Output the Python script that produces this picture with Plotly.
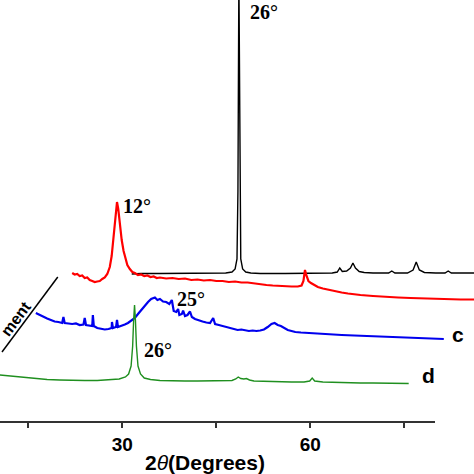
import plotly.graph_objects as go

# ---------------- data (2theta in degrees as displayed, intensity in a.u. incl. offset) -------------
black_x = [31.5, 33.0, 36.0, 40.0, 44.0, 46.5, 47.5, 48.0, 48.3, 48.45, 48.6, 48.75, 48.9, 49.2, 49.7,
           50.5, 52.0, 56.0, 60.0, 63.5, 64.3, 64.7, 65.1, 65.8, 66.4, 66.8, 67.2, 67.8, 68.6, 70.0,
           72.5, 73.0, 73.5, 75.5, 76.4, 76.9, 77.4, 78.2, 80.0, 81.5, 82.0, 82.5, 86.2]
black_y = [147, 147.5, 147.5, 147.5, 147.5, 148, 149, 152, 162, 230, 445, 230, 162, 152, 149,
           148, 147.5, 147.5, 147.5, 148, 149, 153, 149.5, 150, 153, 158, 153, 149.5, 148.5, 148,
           148, 150, 148, 148, 151, 159, 151, 148.5, 148, 148, 150, 148, 148]

red_x = [22.0, 22.4, 22.8, 23.2, 23.6, 24.0, 24.4, 24.8, 25.2, 25.6, 26.0, 26.4, 26.8, 27.2, 27.6,
         28.0, 28.3, 28.6, 28.9, 29.15, 29.35, 29.6, 29.9, 30.2, 30.5, 30.8, 31.2, 31.6, 32.0, 32.5,
         33.0, 33.5, 34.0, 34.5, 35.0, 35.5, 36.0, 37.0, 38.0, 39.0, 40.0, 41.0, 42.0, 43.0, 44.0,
         45.0, 46.0, 47.0, 48.0, 49.0, 50.0, 51.0, 52.0, 53.0, 54.0, 55.0, 56.0, 57.0, 58.0, 58.6,
         58.9, 59.15, 59.35, 59.7, 60.1, 60.6, 61.2, 62.0, 63.0, 64.0, 65.0, 66.0, 67.0, 68.0, 70.0,
         72.0, 74.0, 76.0, 78.0, 80.0, 82.0, 84.0, 86.2]
red_y = [148, 146.5, 147, 145, 145.5, 143, 143.5, 141, 140, 139, 139.5, 140, 142, 143.5, 147,
         154, 165, 185, 208, 219, 212, 196, 181, 170, 162, 156, 152, 149, 148, 146,
         146.5, 145, 145.5, 144, 144.5, 143, 143.5, 142.5, 143, 142, 142.5, 141, 141.5, 140.5, 141,
         140, 140, 139, 139.5, 138.5, 138.5, 137.5, 137, 136, 135.5, 135, 134.5, 134.5, 134.5, 135.5,
         140, 151, 146, 140, 138, 136, 134, 132.5, 131, 129.5, 128.5, 127.5, 126.5, 126, 125,
         124, 123.5, 123, 122.5, 122, 122, 121.5, 121.5]

blue_x = [16.2, 16.8, 17.4, 18.0, 18.6, 19.2, 19.8, 20.4, 20.6, 20.8, 21.4, 22.0, 22.6, 23.2, 23.8,
          24.0, 24.2, 24.8, 25.2, 25.3, 25.45, 26.0, 26.6, 27.2, 27.8, 28.3, 28.35, 28.5, 29.0, 29.15,
          29.3, 29.8, 30.4, 30.9, 31.5, 32.0, 32.5, 33.0, 33.6, 34.1, 34.6, 35.2, 35.6, 36.0, 36.5,
          37.0, 37.5, 37.9, 38.2, 38.6, 38.9, 39.1, 39.5, 39.7, 40.0, 40.4, 40.8, 41.1, 41.6, 42.2,
          42.8, 43.4, 44.0, 44.5, 44.8, 45.4, 46.0, 46.6, 47.2, 47.8, 48.4, 49.0, 49.6, 50.2, 50.8,
          51.4, 52.0, 52.6, 53.2, 53.8, 54.3, 54.8, 55.3, 55.8, 56.4, 57.0, 57.6, 58.5, 59.5, 60.5,
          62.0, 63.5, 65.0, 67.0, 69.0, 71.0, 73.0, 75.0, 77.0, 79.0, 81.3]
blue_y = [108, 106, 104, 102.5, 101, 99.5, 99, 98, 104, 98, 97.5, 97, 97.5, 96, 96.5,
          103, 96, 95.5, 95, 106, 95, 93, 92, 91.5, 92, 93, 99, 93, 94, 101,
          94, 95, 96.5, 98, 100.5, 103, 107, 111, 116, 119, 122, 123.5, 121, 122, 119.5,
          119, 117, 121, 110, 109, 112, 106, 107, 110.5, 105, 106, 109.5, 104, 102, 100.5,
          99.5, 98.5, 98, 103, 97, 96, 95, 94, 92.5, 92, 91, 91.5, 90.5, 90, 90.5,
          90, 90.5, 91.5, 94, 97, 98, 96, 95, 93, 91, 90, 89, 88.5, 88, 87.5,
          87, 86.5, 86, 85.5, 85, 84.5, 84, 83.5, 83, 82.5, 82]

green_x = [10.4, 12.0, 14.0, 16.0, 18.0, 20.0, 22.0, 24.0, 26.0, 28.0, 29.5, 30.5, 31.0, 31.4, 31.65,
           31.8, 31.95, 32.1, 32.25, 32.5, 32.9, 33.5, 34.5, 36.0, 38.0, 40.0, 42.0, 44.0, 46.0, 47.5,
           48.1, 48.5, 48.9, 49.4, 49.8, 50.3, 51.0, 53.0, 55.0, 57.0, 59.0, 59.9, 60.3, 60.7, 62.0,
           64.0, 66.0, 68.0, 70.0, 72.0, 74.0, 75.7]
green_y = [46, 45, 43.5, 42.5, 41.5, 41, 40.5, 40.5, 40.5, 41, 42, 44, 47, 55, 75,
           100, 116, 100, 75, 55, 47, 43, 41.5, 40.5, 40, 40, 40, 40, 40, 40.5,
           42, 44, 42.5, 42, 42.5, 41, 40, 39.5, 39, 39, 39, 40, 43, 40, 39,
           38.5, 38, 38, 38, 38, 38, 37.5]

arrow_x = [10.8, 19.7]
arrow_y = [69, 144]

tick_vals = [15, 30, 45, 60, 75]
tick_text = ["", "30", "", "60", ""]

peak_labels = [
    # text, x, y
    ("26°", 50.0, 409),
    ("12°", 29.8, 215),
    ("25°", 38.4, 122),
    ("26°", 33.1, 71),
]
series_labels = [("c", 83.6, 87), ("d", 78.8, 46)]

# ---------------- figure ----------------
fig = go.Figure()
fig.add_trace(go.Scatter(x=black_x, y=black_y, mode="lines", line=dict(color="#000000", width=1.4)))
fig.add_trace(go.Scatter(x=red_x, y=red_y, mode="lines", line=dict(color="#ff0000", width=2.2)))
fig.add_trace(go.Scatter(x=blue_x, y=blue_y, mode="lines", line=dict(color="#0000ee", width=2.2)))
fig.add_trace(go.Scatter(x=green_x, y=green_y, mode="lines", line=dict(color="#1f8f1f", width=1.4)))
fig.add_trace(go.Scatter(x=arrow_x, y=arrow_y, mode="lines", line=dict(color="#000000", width=1.5)))
# carrier for the visible 2-theta axis
fig.add_trace(go.Scatter(x=[None], y=[None], xaxis="x2", yaxis="y", mode="lines", hoverinfo="skip"))

x_lo = 10.48
fig.update_layout(
    width=474, height=474,
    margin=dict(l=0, r=0, t=0, b=53),
    paper_bgcolor="white", plot_bgcolor="rgba(0,0,0,0)",
    showlegend=False,
    xaxis=dict(domain=[0, 1], range=[x_lo, 86.12], visible=False),
    yaxis=dict(domain=[0, 1], range=[0, 421], visible=False),
    xaxis2=dict(domain=[0, 0.9177], range=[x_lo, 79.89], anchor="y",
                showline=True, linecolor="#333333", linewidth=1.5,
                ticks="outside", ticklen=5, tickwidth=1.5, tickcolor="#333333",
                tickvals=tick_vals, ticktext=tick_text,
                tickfont=dict(family="Liberation Sans", size=19, color="black", weight="bold"),
                showgrid=False, zeroline=False),
)

for txt, x, y in peak_labels:
    fig.add_annotation(x=x, y=y, xref="x", yref="y", text=txt, showarrow=False,
                       xanchor="left", yanchor="middle",
                       font=dict(family="Liberation Serif", size=20, color="black", weight="bold"))
for txt, x, y in series_labels:
    fig.add_annotation(x=x, y=y, xref="x", yref="y", text=txt, showarrow=False,
                       xanchor="center", yanchor="middle",
                       font=dict(family="Liberation Sans", size=21, color="black", weight="bold"))

fig.add_annotation(x=13.0, y=103, xref="x", yref="y", text="ment", showarrow=False,
                   textangle=-53, xanchor="center", yanchor="middle",
                   font=dict(family="Liberation Sans", size=16, color="black", weight="bold"))

fig.add_annotation(x=205 / 474, y=-0.0974, xref="paper", yref="paper",
                   text="<b>2</b><i>θ</i><b>(Degrees)</b>", showarrow=False,
                   xanchor="center", yanchor="middle",
                   font=dict(family="Liberation Sans", size=21, color="black"))

fig.write_html("out.html")
